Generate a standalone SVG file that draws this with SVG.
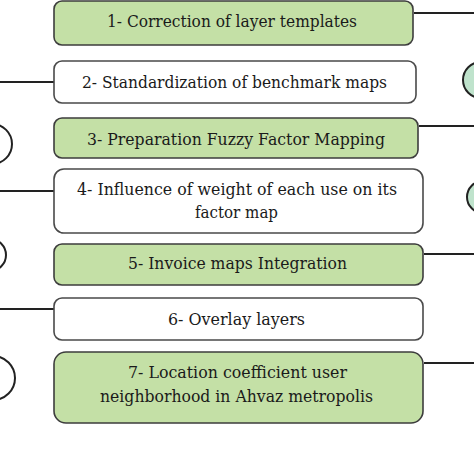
<svg xmlns="http://www.w3.org/2000/svg" width="474" height="474" viewBox="0 0 474 474">
<style>
.g{fill:#c4e0a6;stroke:#3d3d3d;stroke-width:1.6}
.w{fill:#ffffff;stroke:#4a4a4a;stroke-width:1.6}
.t{font-family:"DejaVu Serif","Liberation Serif",serif;font-size:16px;fill:#1a1a1a;text-anchor:middle}
.c{fill:none;stroke:#222;stroke-width:2}
.cg{fill:#bfe3cc;stroke:#222;stroke-width:2}
</style>
<rect width="474" height="474" fill="#fff"/>
<g id="connectors">
<line class="c" x1="414" y1="13" x2="474" y2="13"/>
<line class="c" x1="0" y1="82" x2="54" y2="82"/>
<line class="c" x1="419" y1="126" x2="474" y2="126"/>
<line class="c" x1="0" y1="191" x2="54" y2="191"/>
<line class="c" x1="424" y1="254" x2="474" y2="254"/>
<line class="c" x1="0" y1="309" x2="54" y2="309"/>
<line class="c" x1="424" y1="363" x2="474" y2="363"/>
</g>
<g id="side-circles">
<circle class="c" cx="-8" cy="144" r="20"/>
<circle class="c" cx="-10" cy="255" r="16"/>
<circle class="c" cx="-7" cy="378" r="22"/>
<circle class="cg" cx="481" cy="80" r="18"/>
<circle class="cg" cx="483" cy="197" r="16"/>
</g>
<g id="n1"><rect class="g" x="54" y="1" width="359" height="44" rx="8"/><text class="t" x="232" y="27" textLength="250" lengthAdjust="spacingAndGlyphs">1- Correction of layer templates</text></g>
<g id="n2"><rect class="w" x="54" y="61" width="362" height="42" rx="8"/><text class="t" x="234.5" y="88" textLength="305" lengthAdjust="spacingAndGlyphs">2- Standardization of benchmark maps</text></g>
<g id="n3"><rect class="g" x="54" y="118" width="364" height="40" rx="8"/><text class="t" x="236" y="145" textLength="298" lengthAdjust="spacingAndGlyphs">3- Preparation Fuzzy Factor Mapping</text></g>
<g id="n4"><rect class="w" x="54" y="169" width="369" height="64" rx="10"/><text class="t" x="237" y="195" textLength="320" lengthAdjust="spacingAndGlyphs">4- Influence of weight of each use on its</text><text class="t" x="236.5" y="218" textLength="83" lengthAdjust="spacingAndGlyphs">factor map</text></g>
<g id="n5"><rect class="g" x="54" y="244" width="369" height="41" rx="8"/><text class="t" x="237.5" y="269" textLength="219" lengthAdjust="spacingAndGlyphs">5- Invoice maps Integration</text></g>
<g id="n6"><rect class="w" x="54" y="298" width="369" height="42" rx="8"/><text class="t" x="236.5" y="325" textLength="137" lengthAdjust="spacingAndGlyphs">6- Overlay layers</text></g>
<g id="n7"><rect class="g" x="54" y="352" width="369" height="71" rx="12"/><text class="t" x="237.5" y="378" textLength="219" lengthAdjust="spacingAndGlyphs">7- Location coefficient user</text><text class="t" x="236.5" y="402" textLength="273" lengthAdjust="spacingAndGlyphs">neighborhood in Ahvaz metropolis</text></g>
</svg>
